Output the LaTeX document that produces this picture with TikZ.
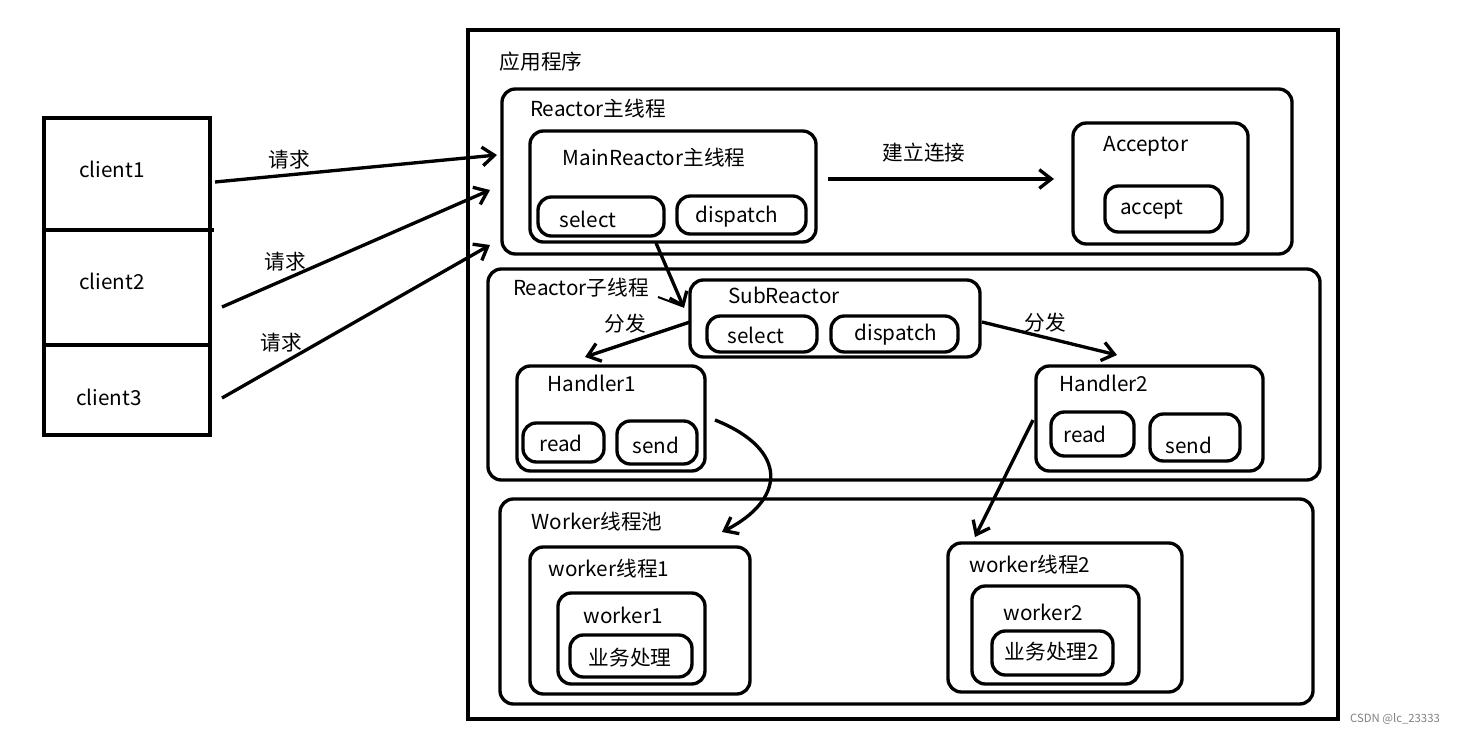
\documentclass[tikz,border=0pt]{standalone}
\usepackage{fontspec}
\setmainfont{Noto Sans CJK SC}
\usetikzlibrary{arrows.meta}
\begin{document}
\begin{tikzpicture}[x=0.75pt,y=-0.75pt,
  bx/.style={draw,line width=2.5pt,rounded corners=10pt},
  sq/.style={draw,line width=2.5pt},
  arr/.style={line width=2.5pt,-{Straight Barb[length=9pt,width=14pt]}},
  t/.style={font=\fontsize{15.5}{17}\selectfont,inner sep=0pt}]
\useasboundingbox (0,0) rectangle (1465,735);
% clients
\draw[sq] (44,118) rectangle (210,435);
\draw[sq] (44,230) -- (214,230);
\draw[sq] (44,345) -- (210,345);
\node[t] (c1) at (112,169) {client1};
\node[t] (c2) at (112,281) {client2};
\node[t] (c3) at (109,397) {client3};
% app
\draw[sq] (468,30) rectangle (1338,719);
\node[t] (app) at (541,62) {应用程序};
\draw[bx] (502,89) rectangle (1292,254);
\node[t] (rm) at (598,109) {Reactor主线程};
\draw[bx] (530,131) rectangle (816,242);
\node[t] (mr) at (654,158) {MainReactor主线程};
\draw[bx] (538,197) rectangle (664,236); \node[t] (s1) at (588,219) {select};
\draw[bx] (677,196) rectangle (806,234); \node[t] (d1) at (737,217) {dispatch};
\coordinate (e1) at (828,179); \coordinate (e2) at (1054,179);
\draw[arr] (e1) -- (e2);
\node[t] at (924,153) {建立连接};
\draw[bx] (1073,123) rectangle (1248,244);
\node[t] (acc) at (1146,146) {Acceptor};
\draw[bx] (1105,186) rectangle (1222,232); \node[t] at (1152,210) {accept};
% sub
\draw[bx] (488,269) rectangle (1320,480);
\node[t] (rs) at (581,288) {Reactor子线程};
\draw[bx] (690,280) rectangle (980,357);
\node[t] (sr) at (784,295) {SubReactor};
\draw[bx] (707,316) rectangle (817,352); \node[t] at (756,335) {select};
\draw[bx] (831,316) rectangle (958,352); \node[t] at (896,335) {dispatch};
\coordinate (a1) at (656,243); \coordinate (a2) at (684,308);
\draw[arr] (a1) -- (a2);
\draw[line width=1.5pt] (658,297) -- (682,306);
\node[t] at (625,324) {分发};
\node[t] at (1045,323) {分发};
\coordinate (b1) at (690,322); \coordinate (b2) at (585,357);
\draw[arr] (b1) -- (b2);
\coordinate (b3) at (982,322); \coordinate (b4) at (1117,355);
\draw[arr] (b3) -- (b4);
\draw[bx] (517,366) rectangle (705,471);
\node[t] at (592,383) {Handler1};
\draw[bx] (523,423) rectangle (604,462); \node[t] at (561,443) {read};
\draw[bx] (617,421) rectangle (697,464); \node[t] at (656,445) {send};
\draw[bx] (1036,366) rectangle (1263,471);
\node[t] at (1104,383) {Handler2};
\draw[bx] (1051,412) rectangle (1134,456); \node[t] at (1085,434) {read};
\draw[bx] (1150,414) rectangle (1240,461); \node[t] at (1189,445) {send};
% workers
\draw[bx] (500,499) rectangle (1313,704);
\node[t] at (597,522) {Worker线程池};
\draw[bx] (530,547) rectangle (750,694);
\node[t] at (609,569) {worker线程1};
\draw[bx] (558,593) rectangle (705,684);
\node[t] at (623,615) {worker1};
\draw[bx] (570,635) rectangle (692,677); \node[t] at (630,658) {业务处理};
\draw[bx] (948,543) rectangle (1182,692);
\node[t] at (1030,565) {worker线程2};
\draw[bx] (972,586) rectangle (1139,684);
\node[t] at (1043,612) {worker2};
\draw[bx] (992,631) rectangle (1113,675); \node[t] at (1052,652) {业务处理2};
\coordinate (h1) at (715,420); \coordinate (h2) at (722,532);
\draw[arr] (h1) .. controls (790,450) and (785,500) .. (h2);
\coordinate (h3) at (1033,420); \coordinate (h4) at (975,537);
\draw[arr] (h3) -- (h4);
% requests
\coordinate (r1) at (215,182); \coordinate (q1) at (497,155);
\coordinate (r2) at (222,307); \coordinate (q2) at (490,190);
\coordinate (r3) at (222,398); \coordinate (q3) at (490,245);
\draw[arr] (r1) -- (q1); \draw[arr] (r2) -- (q2); \draw[arr] (r3) -- (q3);
\node[t] at (289,160) {请求};
\node[t] at (285,262) {请求};
\node[t] at (281,343) {请求};
\node[font=\fontsize{8.5}{9}\selectfont,text=gray,inner sep=0pt] at (1395,719) {CSDN @lc\_23333};
\end{tikzpicture}
\end{document}
